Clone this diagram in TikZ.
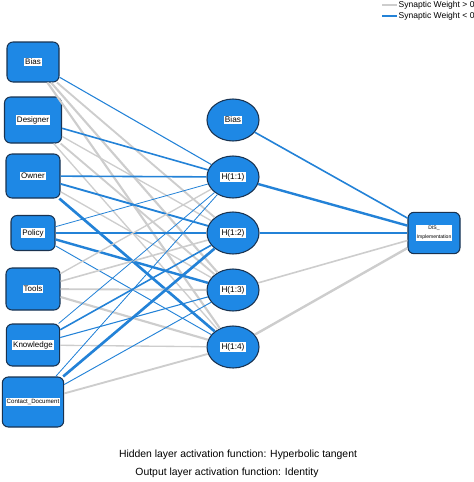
\documentclass[tikz,border=0pt]{standalone}
\usepackage{fontspec}
\setmainfont{Liberation Sans}
\usetikzlibrary{shapes.geometric}

\definecolor{nodeblue}{RGB}{30,136,229}
\definecolor{edgeblue}{RGB}{35,130,215}
\definecolor{edgegray}{RGB}{205,205,205}
\definecolor{rimblue}{RGB}{25,50,80}

\newcommand{\lbl}[1]{{\setlength{\fboxsep}{0.8pt}\colorbox{white}{#1}}}

\tikzset{
  inbox/.style={draw=rimblue, fill=nodeblue, rounded corners=4.5pt, line width=0.8pt, inner sep=0pt, font=\fontsize{6}{7}\selectfont},
  hidnode/.style={draw=rimblue, fill=nodeblue, ellipse, line width=0.8pt, inner sep=0pt, minimum width=39pt, minimum height=31.5pt, font=\fontsize{6.2}{7}\selectfont},
  wpos/.style={draw=edgegray, line width=#1},
  wneg/.style={draw=edgeblue, line width=#1}
}

\begin{document}
\begin{tikzpicture}[x=0.75pt, y=-0.75pt]

\useasboundingbox (0,0) rectangle (474,482);

% input layer
\node (bias) [inbox, minimum width=39pt, minimum height=30pt] at (33, 62) {\lbl{Bias}};
\node (designer) [inbox, minimum width=42.75pt, minimum height=34.5pt] at (33, 120) {\lbl{Designer}};
\node (owner) [inbox, minimum width=40.5pt, minimum height=33pt] at (33, 176) {\lbl{Owner}};
\node (policy) [inbox, minimum width=33pt, minimum height=26.25pt] at (33, 233) {\lbl{Policy}};
\node (tools) [inbox, minimum width=40.5pt, minimum height=31.5pt] at (33, 289) {\lbl{Tools}};
\node (knowledge) [inbox, minimum width=40pt, minimum height=31.5pt] at (33, 345) {\lbl{Knowledge}};
\node (contact) [inbox, minimum width=46pt, minimum height=37.5pt, font=\fontsize{4.6}{5}\selectfont] at (33, 402) {\lbl{Contact\_Document}};

% hidden layer
\node (hbias) [hidnode] at (233, 120) {\lbl{Bias}};
\node (h1) [hidnode] at (233, 177) {\lbl{H(1:1)}};
\node (h2) [hidnode] at (233, 233) {\lbl{H(1:2)}};
\node (h3) [hidnode] at (233, 290) {\lbl{H(1:3)}};
\node (h4) [hidnode] at (233, 347) {\lbl{H(1:4)}};

% output layer
\node (out) [inbox, minimum width=39pt, minimum height=31pt, align=center, font=\fontsize{3.8}{4.2}\selectfont] at (434, 233) {\lbl{\shortstack{DIS\_\\Implementation}}};

% input to hidden
\draw [wneg=0.8] (bias) -- (h1);
\draw [wpos=1.4] (bias) -- (h2);
\draw [wpos=1.6] (bias) -- (h3);
\draw [wpos=1.6] (bias) -- (h4);

\draw [wneg=1.2] (designer) -- (h1);
\draw [wpos=1.0] (designer) -- (h2);
\draw [wpos=1.4] (designer) -- (h3);
\draw [wpos=1.0] (designer) -- (h4);

\draw [wneg=1.2] (owner) -- (h1);
\draw [wneg=1.4] (owner) -- (h2);
\draw [wpos=1.0] (owner) -- (h3);
\draw [wneg=2.0] (owner) -- (h4);

\draw [wneg=0.6] (policy) -- (h1);
\draw [wneg=1.0] (policy) -- (h2);
\draw [wneg=1.8] (policy) -- (h3);
\draw [wneg=0.7] (policy) -- (h4);

\draw [wpos=1.0] (tools) -- (h1);
\draw [wpos=1.2] (tools) -- (h2);
\draw [wpos=1.4] (tools) -- (h3);
\draw [wpos=1.6] (tools) -- (h4);

\draw [wneg=0.6] (knowledge) -- (h1);
\draw [wneg=1.2] (knowledge) -- (h2);
\draw [wneg=0.8] (knowledge) -- (h3);
\draw [wpos=1.0] (knowledge) -- (h4);

\draw [wneg=0.6] (contact) -- (h1);
\draw [wneg=2.0] (contact) -- (h2);
\draw [wneg=0.7] (contact) -- (h3);
\draw [wpos=1.4] (contact) -- (h4);

% hidden to output
\draw [wneg=1.2] (hbias) -- (out);
\draw [wneg=1.8] (h1) -- (out);
\draw [wneg=2.0] (h2) -- (out);
\draw [wpos=1.2] (h3) -- (out);
\draw [wpos=1.8] (h4) -- (out);

% legend
\coordinate (lg1a) at (382, 5);
\coordinate (lg1b) at (397, 5);
\coordinate (lg2a) at (382, 16);
\coordinate (lg2b) at (397, 16);
\draw [wpos=1.2] (lg1a) -- (lg1b);
\draw [wneg=2.2] (lg2a) -- (lg2b);
\node (lgpos) [anchor=west, inner sep=1pt, font=\fontsize{6.4}{7}\selectfont] at (lg1b) {Synaptic Weight > 0};
\node (lgneg) [anchor=west, inner sep=1pt, font=\fontsize{6.4}{7}\selectfont] at (lg2b) {Synaptic Weight < 0};

% activation notes
\node (note1) [font=\fontsize{7.8}{9}\selectfont] at (238, 455) {Hidden layer activation function: Hyperbolic tangent};
\node (note2) [font=\fontsize{7.8}{9}\selectfont] at (227, 473) {Output layer activation function: Identity};

\end{tikzpicture}
\end{document}
